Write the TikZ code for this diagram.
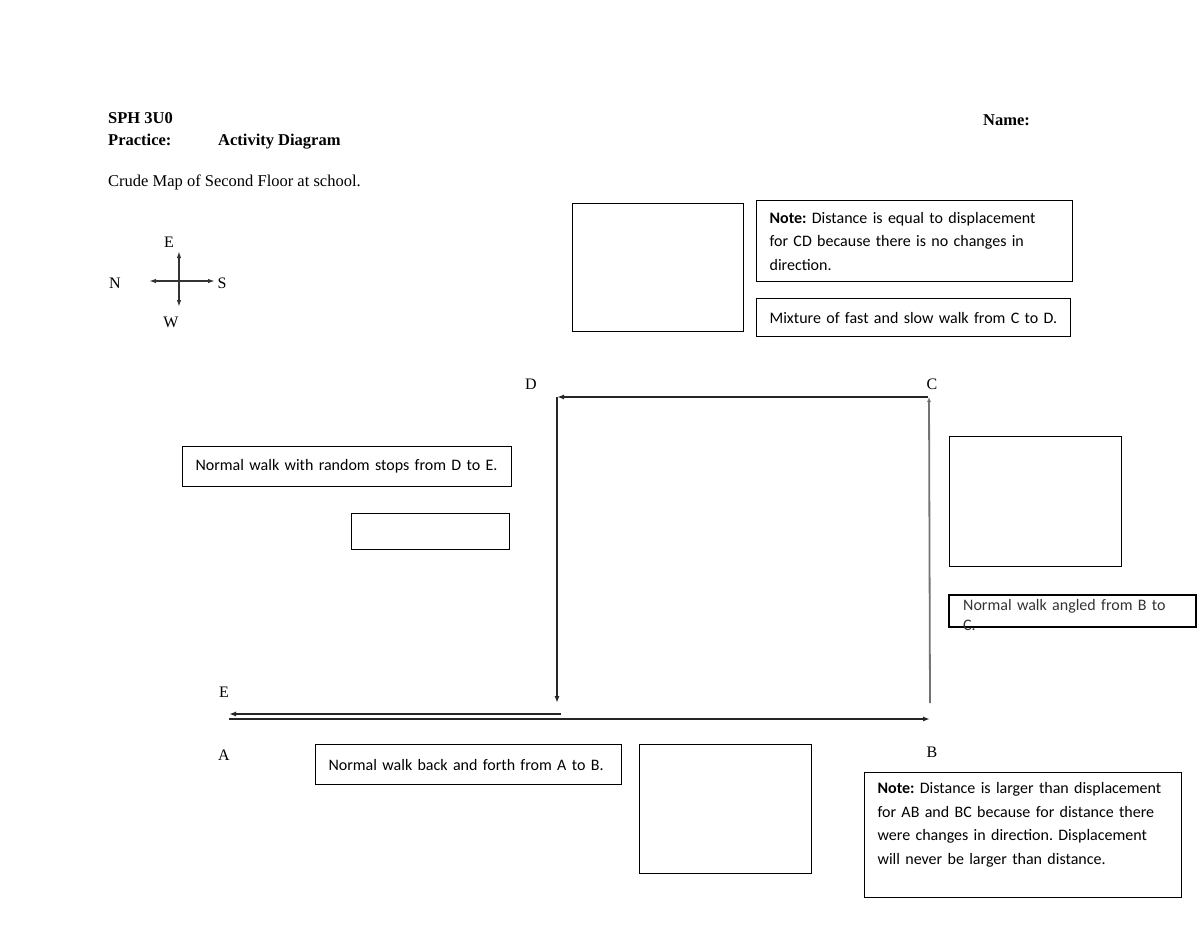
\documentclass[tikz,border=0pt]{standalone}
\usepackage{fontspec}
\setmainfont{Liberation Serif}
\newfontfamily\calib{Carlito}
\usetikzlibrary{arrows.meta, positioning, calc}

\begin{document}
\frenchspacing
\begin{tikzpicture}[
    x=1pt, y=-1pt,
    font=\fontsize{16}{19}\selectfont,
    walk/.style={-{Latex[length=7pt, width=5pt]}, line width=1.8pt, black!85},
    compass/.style={{Latex[length=7pt, width=4.5pt]}-{Latex[length=7pt, width=4.5pt]}, line width=2pt, black!80},
    frame/.style={draw, line width=1.2pt, anchor=north west, inner sep=0pt},
    remark/.style={frame, font=\calib\fontsize{16}{23.5}\selectfont, align=left, inner xsep=13pt, inner ysep=0pt},
    letter/.style={inner sep=0pt, font=\fontsize{16}{19}\selectfont},
]
\useasboundingbox (0,0) rectangle (1200,927);

% en-tete
\node[anchor=base west, inner sep=0pt, font=\bfseries\fontsize{16.5}{19}\selectfont] (course) at (108,123) {SPH 3U0};
\node[anchor=base west, inner sep=0pt, font=\bfseries\fontsize{16.5}{19}\selectfont] (practice) at (108,145) {Practice:};
\node[anchor=base west, inner sep=0pt, font=\bfseries\fontsize{16.5}{19}\selectfont] (activity) at (218,145) {Activity Diagram};
\node[anchor=base west, inner sep=0pt, font=\bfseries\fontsize{16.5}{19}\selectfont] (name) at (983,125) {Name:};
\node[anchor=base west, inner sep=0pt, font=\fontsize{16.5}{19}\selectfont] (caption) at (108,186) {Crude Map of Second Floor at school.};

% boussole
\node[letter] (north) at (115,283) {N};
\node[letter] (south) at (222,283) {S};
\node[letter] (east) at (169,242) {E};
\node[letter] (west) at (171,322) {W};
\coordinate (cN) at (149,281);
\coordinate (cS) at (215,281);
\coordinate (cE) at (179,251);
\coordinate (cW) at (179,307);
\draw[compass] (cN) -- (cS);
\draw[compass] (cE) -- (cW);

% coins du trajet
\node[letter] (labD) at (531,384) {D};
\node[letter] (labC) at (932,384) {C};
\node[letter] (labE) at (224,692) {E};
\node[letter] (labA) at (224,755) {A};
\node[letter] (labB) at (932,752) {B};

\coordinate (a0) at (229,719);
\coordinate (b0) at (930,719);
\coordinate (b1) at (930,703);
\coordinate (c1) at (929,397);
\coordinate (c0) at (928,397);
\coordinate (d0) at (557,397);
\coordinate (e0) at (557,703);
\coordinate (e1) at (561,714);
\coordinate (a1) at (229,714);

\draw[walk, line width=2pt] (a0) -- (b0);
\draw[walk, black!55, -{Latex[length=5pt, width=4pt]}] (b1) -- (c1);
\draw[walk] (c0) -- (d0);
\draw[walk] (d0) -- (e0);
\draw[walk] (e1) -- (a1);

% cases vides
\node[frame, minimum width=171, minimum height=128] (blankTop) at (572,203) {};
\node[frame, minimum width=172, minimum height=130] (blankRight) at (949,436) {};
\node[frame, minimum width=158, minimum height=36] (blankSmall) at (351,513) {};
\node[frame, minimum width=172, minimum height=129] (blankBottom) at (639,744) {};

% remarques
\node[remark, text width=290, minimum height=81] (noteCD) at (756,200)
    {\textbf{Note:} Distance is equal to displacement\\for CD because there is no changes in\\direction.};
\node[remark, text width=288, minimum height=38] (walkCD) at (756,298)
    {Mixture of fast and slow walk from C to D.};
\node[remark, text width=303, minimum height=40] (walkDE) at (182,446)
    {Normal walk with random stops from D to E.};
\node[remark, text width=280, minimum height=40] (walkAB) at (315,744)
    {Normal walk back and forth from A to B.};
\node[remark, text width=291, minimum height=125] (noteAB) at (864,772)
    {\textbf{Note:} Distance is larger than displacement\\for AB and BC because for distance there\\were changes in direction. Displacement\\will never be larger than distance.\\\mbox{}};
\node[frame, line width=1.6pt, minimum width=247, minimum height=32] (walkBC) at (948,594) {};
\node[anchor=north west, inner sep=0pt, text width=215, align=left, font=\calib\fontsize{16}{20}\selectfont, black!80]
    (walkBCtxt) at ($(walkBC.north west)+(15,5)$) {Normal walk angled from B to\\C.};

\end{tikzpicture}
\end{document}
